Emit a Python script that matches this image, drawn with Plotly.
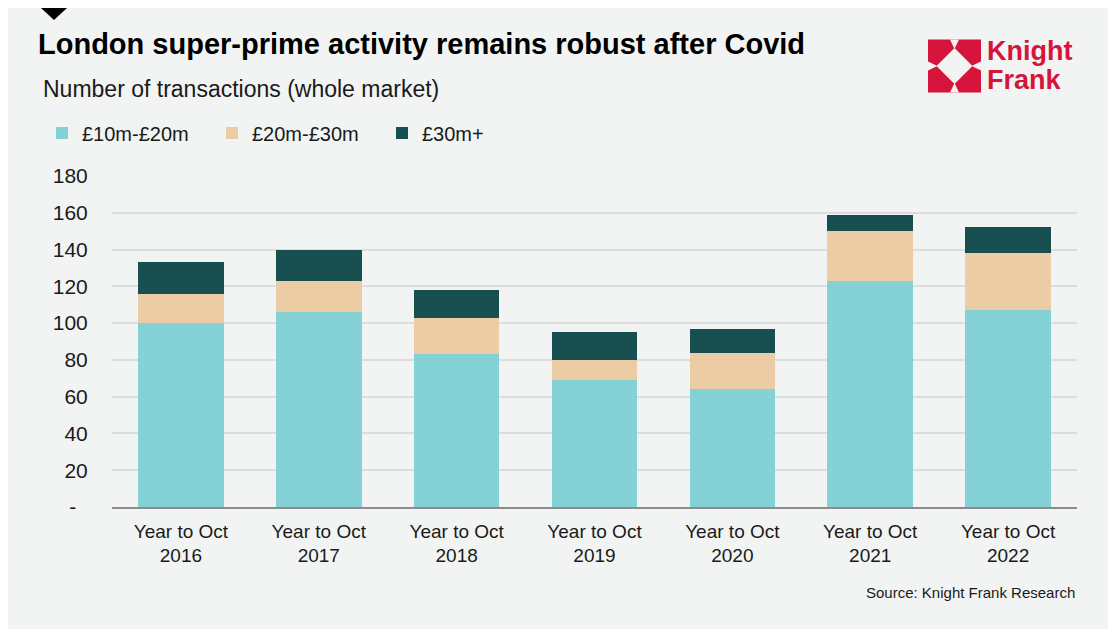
import plotly.graph_objects as go

categories = ["Year to Oct<br>2016", "Year to Oct<br>2017", "Year to Oct<br>2018",
              "Year to Oct<br>2019", "Year to Oct<br>2020", "Year to Oct<br>2021",
              "Year to Oct<br>2022"]
band_10_20 = [100, 106, 83, 69, 64, 123, 107]
band_20_30 = [16, 17, 20, 11, 20, 27, 31]
band_30_plus = [17, 17, 15, 15, 13, 9, 14]
series_names = ["£10m-£20m", "£20m-£30m", "£30m+"]
series_colors = ["#84d2d6", "#ebcca5", "#184f50"]
tick_vals = [0, 20, 40, 60, 80, 100, 120, 140, 160, 180]
tick_text = ["-\u00a0\u00a0", "20", "40", "60", "80", "100", "120", "140", "160", "180"]

# page has an 8px body margin; figure occupies screen 8..1108 x 8..629
OX, OY = 8, 8
W, H = 1100, 621
L, R, T, B = 104, 31, 168, 122
PW, PH = W - L - R, H - T - B
FONT = "Liberation Sans, Arial, sans-serif"
RED = "#d7143c"
PANEL = "#f1f4f3"


def xp(px):
    return (px - OX - L) / PW


def yp(py):
    return (H - B - (py - OY)) / PH


fig = go.Figure()
for name, vals, col in zip(series_names, [band_10_20, band_20_30, band_30_plus], series_colors):
    fig.add_trace(go.Bar(x=categories, y=vals, name=name,
                         marker=dict(color=col, line=dict(width=0))))


def path(points):
    return "M " + " L ".join(f"{xp(a):.5f},{yp(b):.5f}" for a, b in points) + " Z"


shapes = []
# top-left triangle
shapes.append(dict(type="path", xref="paper", yref="paper",
                   path=path([(41, 8), (67, 8), (54, 20)]),
                   fillcolor="#000000", line=dict(width=0)))
# logo icon
shapes.append(dict(type="rect", xref="paper", yref="paper",
                   x0=xp(928), x1=xp(981), y0=yp(92.5), y1=yp(39.5),
                   fillcolor=RED, line=dict(width=0)))
cx, cy, d = 954.5, 66, 18
shapes.append(dict(type="path", xref="paper", yref="paper",
                   path=path([(cx - d, cy), (cx, cy - d), (cx + d, cy), (cx, cy + d)]),
                   fillcolor=PANEL, line=dict(width=0)))
for tri in [[(cx - 4.5, 39.5), (cx + 4.5, 39.5), (cx, 49)],
            [(cx - 4.5, 92.5), (cx + 4.5, 92.5), (cx, 83)],
            [(928, cy - 4.5), (928, cy + 4.5), (937.5, cy)],
            [(981, cy - 4.5), (981, cy + 4.5), (971.5, cy)]]:
    shapes.append(dict(type="path", xref="paper", yref="paper", path=path(tri),
                       fillcolor=PANEL, line=dict(width=0)))

annotations = [
    dict(text="<b>London super-prime activity remains robust after Covid</b>",
         x=xp(36), y=yp(44), xref="paper", yref="paper", xanchor="left", yanchor="middle",
         showarrow=False, font=dict(family=FONT, size=29, color="#000000")),
    dict(text="Number of transactions (whole market)",
         x=xp(41), y=yp(89), xref="paper", yref="paper", xanchor="left", yanchor="middle",
         showarrow=False, font=dict(family=FONT, size=23, color="#1a1a1a")),
    dict(text="Source: Knight Frank Research",
         x=xp(1077), y=yp(592), xref="paper", yref="paper", xanchor="right", yanchor="middle",
         showarrow=False, font=dict(family=FONT, size=15, color="#1a1a1a")),
    dict(text="<b>Knight</b>", x=xp(985), y=yp(51), xref="paper", yref="paper",
         xanchor="left", yanchor="middle", showarrow=False,
         font=dict(family=FONT, size=27, color=RED)),
    dict(text="<b>Frank</b>", x=xp(985), y=yp(80), xref="paper", yref="paper",
         xanchor="left", yanchor="middle", showarrow=False,
         font=dict(family=FONT, size=27, color=RED)),
]

fig.update_layout(
    width=W, height=H,
    margin=dict(l=L, r=R, t=T, b=B, pad=0),
    barmode="stack", bargap=0.38,
    paper_bgcolor=PANEL, plot_bgcolor="rgba(0,0,0,0)",
    font=dict(family=FONT, color="#1a1a1a"),
    shapes=shapes, annotations=annotations,
    showlegend=True,
    legend=dict(orientation="h", x=xp(42), y=yp(133), xanchor="left", yanchor="middle",
                font=dict(family=FONT, size=20, color="#1a1a1a"),
                itemwidth=30, entrywidth=125, entrywidthmode="pixels",
                bgcolor="rgba(0,0,0,0)", traceorder="normal", itemclick=False),
    xaxis=dict(showline=True, linecolor="#8c8c8c", linewidth=1.5, showgrid=False,
               ticks="outside", ticklen=6, tickcolor="rgba(0,0,0,0)",
               tickfont=dict(family=FONT, size=19, color="#1a1a1a"), fixedrange=True),
    yaxis=dict(range=[0, 180], tickvals=tick_vals, ticktext=tick_text,
               showgrid=True, gridcolor="#dcdedd", gridwidth=1.5, zeroline=False,
               ticks="outside", ticklen=19, tickcolor="rgba(0,0,0,0)",
               tickfont=dict(family=FONT, size=21, color="#1a1a1a"), fixedrange=True),
)

fig.write_html("out.html")
